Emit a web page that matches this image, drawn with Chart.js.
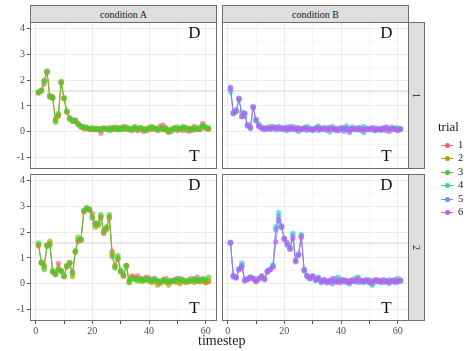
<!DOCTYPE html>
<html lang="en">
<head>
  <meta charset="UTF-8">
  <title>Trials by condition</title>
  <script src="https://cdn.jsdelivr.net/npm/chart.js"></script>
  <style>
    body { margin: 0; background: #fff; font-family: "Liberation Serif", serif; }
    #wrap { position: relative; width: 474px; height: 351px; overflow: hidden; }
    canvas { position: absolute; left: 0; top: 0; }
    .strip { position: absolute; background: #dedede; border: 1px solid #6e6e6e; box-sizing: border-box;
             font-size: 10px; color: #1a1a1a; display: flex; align-items: center; justify-content: center; }
    .vtext { transform: rotate(90deg); white-space: nowrap; }
    .abs { position: absolute; color: #1a1a1a; }
  </style>
</head>
<body>
<div id="wrap">
  <canvas id="pA1" width="474" height="351"></canvas>
  <canvas id="pB1" width="474" height="351"></canvas>
  <canvas id="pA2" width="474" height="351"></canvas>
  <canvas id="pB2" width="474" height="351"></canvas>

  <div class="strip" style="left:30px;top:5px;width:187px;height:18px;">condition A</div>
  <div class="strip" style="left:222px;top:5px;width:187px;height:18px;">condition B</div>
  <div class="strip" style="left:408px;top:22px;width:17px;height:147px;"><span class="vtext">1</span></div>
  <div class="strip" style="left:408px;top:174px;width:17px;height:147px;"><span class="vtext">2</span></div>

  <div class="abs" style="left:198px;top:333px;font-size:14px;">timestep</div>
  <div id="legend"></div>
</div>

<script>
// timesteps 1..61
const timesteps = Array.from({ length: 61 }, (_, i) => i + 1);

const trialLabels = ['1', '2', '3', '4', '5', '6'];
const trialColors = ['#F2627A', '#B5A000', '#44CC33', '#2ED3B8', '#6A94F5', '#BE5EF0'];
const thresholdValue = 1.58;

// row 1, condition A (trials 1-3)
const row1Trial1 = [1.5, 1.58, 1.85, 2.3, 1.38, 1.33, 0.48, 0.65, 1.88, 1.3, 0.75, 0.55, 0.4, 0.45, 0.28, 0.18, 0.12,
  0.15, 0.1, 0.12, 0.08, 0.1, -0.05, 0.12, 0.1, 0.15, 0.08, 0.18, 0.1, 0.12, 0.2, 0.1, 0.08, 0.12, 0.15, 0.05, 0.1, 0.02, 0.12,
  0.08, 0.15, 0.1, 0.05, 0.22, 0.25, 0.1, 0.0, 0.08, 0.12, 0.05, 0.1, 0.15, 0.08, 0.02, 0.12, 0.2, 0.1, 0.08, 0.32, 0.15, 0.1];
const row1Trial2 = [1.55, 1.6, 2.0, 2.33, 1.35, 1.35, 0.42, 0.6, 1.92, 1.28, 0.78, 0.5, 0.42, 0.42, 0.3, 0.2, 0.15,
  0.12, 0.12, 0.08, 0.1, 0.12, 0.05, 0.1, 0.12, 0.1, 0.12, 0.1, 0.15, 0.08, 0.12, 0.15, 0.1, 0.05, 0.12, 0.1, 0.15, 0.08, 0.05,
  0.12, 0.1, 0.15, 0.12, 0.08, 0.1, 0.05, -0.02, 0.1, 0.15, 0.08, 0.12, 0.05, 0.15, 0.1, 0.12, 0.08, 0.12, 0.1, 0.25, 0.12, 0.1];
const row1Trial3 = [1.52, 1.62, 1.95, 2.35, 1.4, 1.3, 0.38, 0.7, 1.95, 1.32, 0.8, 0.48, 0.45, 0.4, 0.32, 0.22, 0.2,
  0.15, 0.1, 0.15, 0.12, 0.08, 0.12, 0.15, 0.1, 0.05, 0.15, 0.12, 0.08, 0.15, 0.1, 0.18, 0.12, 0.08, 0.2, 0.12, 0.15, 0.1, 0.05,
  0.15, 0.2, 0.12, 0.08, 0.15, 0.1, 0.15, 0.05, 0.02, 0.12, 0.18, 0.1, 0.2, 0.15, 0.1, 0.05, 0.15, 0.12, 0.18, 0.2, 0.18, 0.15];

// row 1, condition B (trials 4-6)
const row1Trial4 = [1.55, 0.72, 0.85, 1.25, 0.75, 0.6, 0.22, 0.12, 0.92, 0.45, 0.3, 0.18, 0.12, 0.15, 0.2, 0.18, 0.15,
  0.2, 0.15, 0.12, 0.18, 0.1, 0.2, 0.15, 0.12, 0.1, 0.15, 0.2, 0.12, 0.1, 0.15, 0.22, 0.12, 0.08, 0.15, 0.1, 0.2, 0.12, 0.05,
  0.15, 0.1, 0.22, 0.12, 0.18, 0.1, 0.08, 0.15, 0.2, 0.1, 0.12, 0.08, 0.15, 0.1, 0.05, 0.12, 0.15, 0.1, 0.18, 0.12, 0.15, 0.1];
const row1Trial5 = [1.72, 0.7, 0.8, 1.3, 0.6, 0.7, 0.28, 0.18, 0.98, 0.48, 0.2, 0.15, 0.08, 0.1, 0.1, 0.12, 0.08,
  0.1, 0.12, 0.08, 0.05, 0.12, 0.1, 0.08, 0.02, 0.1, 0.12, 0.05, 0.1, 0.08, 0.12, 0.05, 0.1, 0.15, 0.08, 0.0, 0.1, 0.05, 0.12,
  0.08, 0.02, 0.1, 0.05, 0.12, 0.08, 0.1, 0.05, -0.02, 0.1, 0.08, 0.12, 0.05, 0.1, 0.08, 0.15, 0.05, 0.1, 0.08, 0.12, 0.05, 0.1];
const row1Trial6 = [1.68, 0.75, 0.78, 1.28, 0.58, 0.72, 0.25, 0.15, 0.95, 0.42, 0.22, 0.12, 0.12, 0.15, 0.12, 0.18, 0.15,
  0.15, 0.1, 0.15, 0.12, 0.18, 0.1, 0.12, 0.15, 0.08, 0.12, 0.15, 0.1, 0.05, 0.12, 0.15, 0.1, 0.12, 0.08, 0.15, 0.12, 0.1, 0.05,
  0.12, 0.15, 0.1, -0.02, 0.1, 0.12, 0.15, 0.1, 0.08, 0.12, 0.1, 0.15, 0.05, 0.1, 0.12, 0.08, 0.18, 0.02, 0.12, 0.1, 0.05, 0.1];

// row 2, condition A (trials 1-3)
const row2Trial1 = [1.48, 0.82, 0.7, 1.45, 1.55, 0.45, 0.35, 0.78, 0.5, 0.3, 0.7, 0.78, 0.45, 1.25, 1.65, 1.7, 2.8, 2.92, 2.85,
  2.72, 2.35, 2.3, 2.6, 1.95, 2.1, 2.6, 1.25, 0.7, 0.95, 0.45, 0.3, 0.7, 0.15, 0.3,
  0.25, 0.3, 0.2, 0.15, 0.25, 0.22, 0.15, 0.2, 0.1, 0.05, 0.15, 0.2, 0.05, 0.1, 0.15, 0.2, 0.1, 0.15, 0.08, 0.1, 0.2, 0.15,
  0.25, 0.1, 0.15, 0.05, 0.1];
const row2Trial2 = [1.5, 0.8, 0.65, 1.5, 1.65, 0.5, 0.4, 0.6, 0.5, 0.28, 0.65, 0.8, 0.28, 1.22, 1.7, 1.72, 2.78, 2.9, 2.88,
  2.6, 2.2, 2.25, 2.55, 2.0, 2.15, 2.55, 1.15, 0.65, 1.0, 0.5, 0.3, 0.68, 0.05, 0.25,
  0.2, 0.15, 0.1, 0.18, 0.15, 0.1, 0.05, 0.1, -0.05, 0.02, 0.1, 0.05, -0.05, 0.08, 0.12, 0.05, 0.0, 0.1, 0.05, 0.08, 0.1, 0.05,
  0.12, 0.08, 0.1, 0.05, 0.08];
const row2Trial3 = [1.58, 0.83, 0.55, 1.48, 1.5, 0.48, 0.38, 0.55, 0.48, 0.3, 0.68, 0.82, 0.4, 1.28, 1.8, 1.7, 2.85, 2.95, 2.9,
  2.55, 2.3, 2.35, 2.68, 2.05, 2.2, 2.68, 1.05, 0.62, 1.08, 0.5, 0.35, 0.7, 0.05, 0.2,
  0.15, 0.12, 0.18, 0.1, 0.2, 0.15, 0.1, 0.18, 0.12, 0.08, 0.15, 0.1, 0.12, 0.1, 0.08, 0.15, 0.2, 0.12, 0.1, 0.15, 0.12, 0.18,
  0.1, 0.15, 0.2, 0.15, 0.25];

// row 2, condition B (trials 4-6)
const row2Trial4 = [1.58, 0.25, 0.25, 0.58, 0.8, 0.15, 0.2, 0.25, 0.2, 0.1, 0.2, 0.25, 0.18, 0.45, 0.55, 0.72, 2.2, 2.75, 2.25,
  1.75, 1.55, 1.4, 1.95, 0.92, 1.15, 1.9, 0.5, 0.28, 0.2, 0.3, 0.15, 0.25, 0.05,
  0.15, 0.1, 0.05, 0.12, 0.2, 0.25, 0.1, 0.15, 0.05, 0.12, 0.1, 0.2, 0.25, 0.1, 0.05, 0.12, 0.15, -0.05, 0.1, 0.15, 0.12, 0.05,
  0.1, 0.15, 0.12, 0.08, 0.2, 0.15];
const row2Trial5 = [1.6, 0.3, 0.22, 0.55, 0.7, 0.12, 0.18, 0.22, 0.2, 0.08, 0.18, 0.3, 0.15, 0.5, 0.55, 0.68, 2.1, 2.6, 2.2,
  1.72, 1.5, 1.35, 1.85, 0.88, 1.12, 1.85, 0.55, 0.3, 0.22, 0.28, 0.12, 0.22, 0.08,
  0.1, 0.05, 0.1, 0.0, 0.08, 0.1, 0.05, 0.12, 0.08, 0.0, 0.1, 0.08, 0.05, 0.12, 0.08, 0.1, 0.05, 0.0, 0.08, 0.1, 0.05, 0.12,
  0.08, 0.02, 0.1, 0.05, 0.08, 0.1];
const row2Trial6 = [1.6, 0.32, 0.25, 0.55, 0.65, 0.12, 0.15, 0.25, 0.2, 0.1, 0.2, 0.3, 0.2, 0.45, 0.55, 0.65, 1.62, 2.45, 2.2,
  1.75, 1.6, 1.35, 1.75, 0.85, 1.1, 1.8, 0.52, 0.32, 0.2, 0.3, 0.15, 0.2, 0.1,
  0.15, 0.05, 0.12, 0.2, 0.1, 0.05, 0.15, 0.1, 0.12, 0.05, 0.15, 0.1, 0.2, 0.08, 0.12, 0.15, 0.05, 0.1, 0.15, 0.12, 0.08, 0.15,
  0.1, 0.05, 0.12, 0.15, 0.08, 0.12];

const xTicks = [0, 10, 20, 30, 40, 50, 60];
const yTicks = [-1, -0.5, 0, 0.5, 1, 1.5, 2, 2.5, 3, 3.5, 4];

function rgba(hex, a) {
  const n = parseInt(hex.slice(1), 16);
  return `rgba(${n >> 16},${(n >> 8) & 255},${n & 255},${a})`;
}

// border, D and T labels on each panel
const panelDecor = {
  id: 'panelDecor',
  afterDraw(chart) {
    const { ctx, chartArea: a, scales } = chart;
    ctx.save();
    ctx.strokeStyle = '#6e6e6e';
    ctx.lineWidth = 1;
    ctx.strokeRect(a.left + 0.5, a.top + 0.5, a.right - a.left - 1, a.bottom - a.top - 1);
    ctx.fillStyle = '#111';
    ctx.font = '17px "Liberation Serif"';
    ctx.textAlign = 'center';
    ctx.textBaseline = 'middle';
    ctx.fillText('D', scales.x.getPixelForValue(56), scales.y.getPixelForValue(3.82));
    ctx.fillText('T', scales.x.getPixelForValue(56), scales.y.getPixelForValue(-0.98));
    ctx.restore();
  }
};

function makePanel(canvasId, series, trialIdx, box) {
  const datasets = [];
  // later trials on top, like ggplot
  series.forEach((vals, i) => {
    const c = trialColors[trialIdx[i]];
    datasets.push({
      label: trialLabels[trialIdx[i]],
      data: vals.map((v, j) => ({ x: timesteps[j], y: v })),
      borderColor: rgba(c, 0.8),
      backgroundColor: rgba(c, 0.65),
      borderWidth: 1,
      pointRadius: 2.8,
      pointBorderWidth: 0,
      order: 3 - i
    });
  });
  datasets.push({
    label: 'threshold',
    data: [{ x: -2, y: thresholdValue }, { x: 64, y: thresholdValue }],
    borderColor: '#d2d2d2',
    borderWidth: 1.2,
    pointRadius: 0,
    order: 10
  });

  const tickFont = { family: 'Liberation Serif', size: 10 };
  new Chart(document.getElementById(canvasId), {
    type: 'line',
    data: { datasets },
    options: {
      responsive: false,
      animation: false,
      layout: { padding: { left: box.showY ? 0 : box.left, right: 474 - box.right, top: box.top, bottom: 351 - box.bottom - (box.showX ? 14 : 0) } },
      plugins: { legend: { display: false }, tooltip: { enabled: false } },
      scales: {
        x: {
          type: 'linear', min: -2, max: 64,
          afterBuildTicks: s => { s.ticks = xTicks.map(v => ({ value: v })); },
          afterFit: s => { s.height = box.showX ? 14 : 0; },
          border: { display: false },
          grid: {
            color: ctx => (ctx.tick && ctx.tick.value % 20 === 0) ? '#ebebeb' : '#f5f5f5',
            drawTicks: box.showX, tickLength: 3, tickColor: '#555'
          },
          ticks: {
            display: box.showX, padding: 1, color: '#4d4d4d', font: tickFont, maxRotation: 0,
            callback: v => (v % 20 === 0 ? v : '')
          }
        },
        y: {
          type: 'linear', min: -1.45, max: 4.26,
          afterBuildTicks: s => { s.ticks = yTicks.map(v => ({ value: v })); },
          afterFit: s => { s.width = box.showY ? box.left : 0; },
          border: { display: false },
          grid: {
            color: ctx => (ctx.tick && Number.isInteger(ctx.tick.value)) ? '#ebebeb' : '#f5f5f5',
            drawTicks: box.showY, tickLength: 3, tickColor: '#555'
          },
          ticks: {
            display: box.showY, padding: 2, color: '#4d4d4d', font: tickFont,
            callback: v => (Number.isInteger(v) ? v : '')
          }
        }
      }
    },
    plugins: [panelDecor]
  });
}

// legend built as plain html
function buildLegend() {
  const el = document.getElementById('legend');
  let html = '<div class="abs" style="left:438px;top:119px;font-size:13px;">trial</div>';
  trialLabels.forEach((t, i) => {
    const y = 145 + i * 13.5;
    html += `<div class="abs" style="left:441px;top:${y - 0.5}px;width:12px;height:1px;background:${trialColors[i]};"></div>`;
    html += `<div class="abs" style="left:444.5px;top:${y - 2.5}px;width:5px;height:5px;border-radius:50%;background:${trialColors[i]};"></div>`;
    html += `<div class="abs" style="left:458px;top:${y - 6.5}px;font-size:10.5px;">${t}</div>`;
  });
  el.innerHTML = html;
}

makePanel('pA1', [row1Trial1, row1Trial2, row1Trial3], [0, 1, 2], { left: 30, right: 217, top: 22, bottom: 169, showX: false, showY: true });
makePanel('pB1', [row1Trial4, row1Trial5, row1Trial6], [3, 4, 5], { left: 222, right: 409, top: 22, bottom: 169, showX: false, showY: false });
makePanel('pA2', [row2Trial1, row2Trial2, row2Trial3], [0, 1, 2], { left: 30, right: 217, top: 174, bottom: 321, showX: true, showY: true });
makePanel('pB2', [row2Trial4, row2Trial5, row2Trial6], [3, 4, 5], { left: 222, right: 409, top: 174, bottom: 321, showX: true, showY: false });
buildLegend();
</script>
</body>
</html>
